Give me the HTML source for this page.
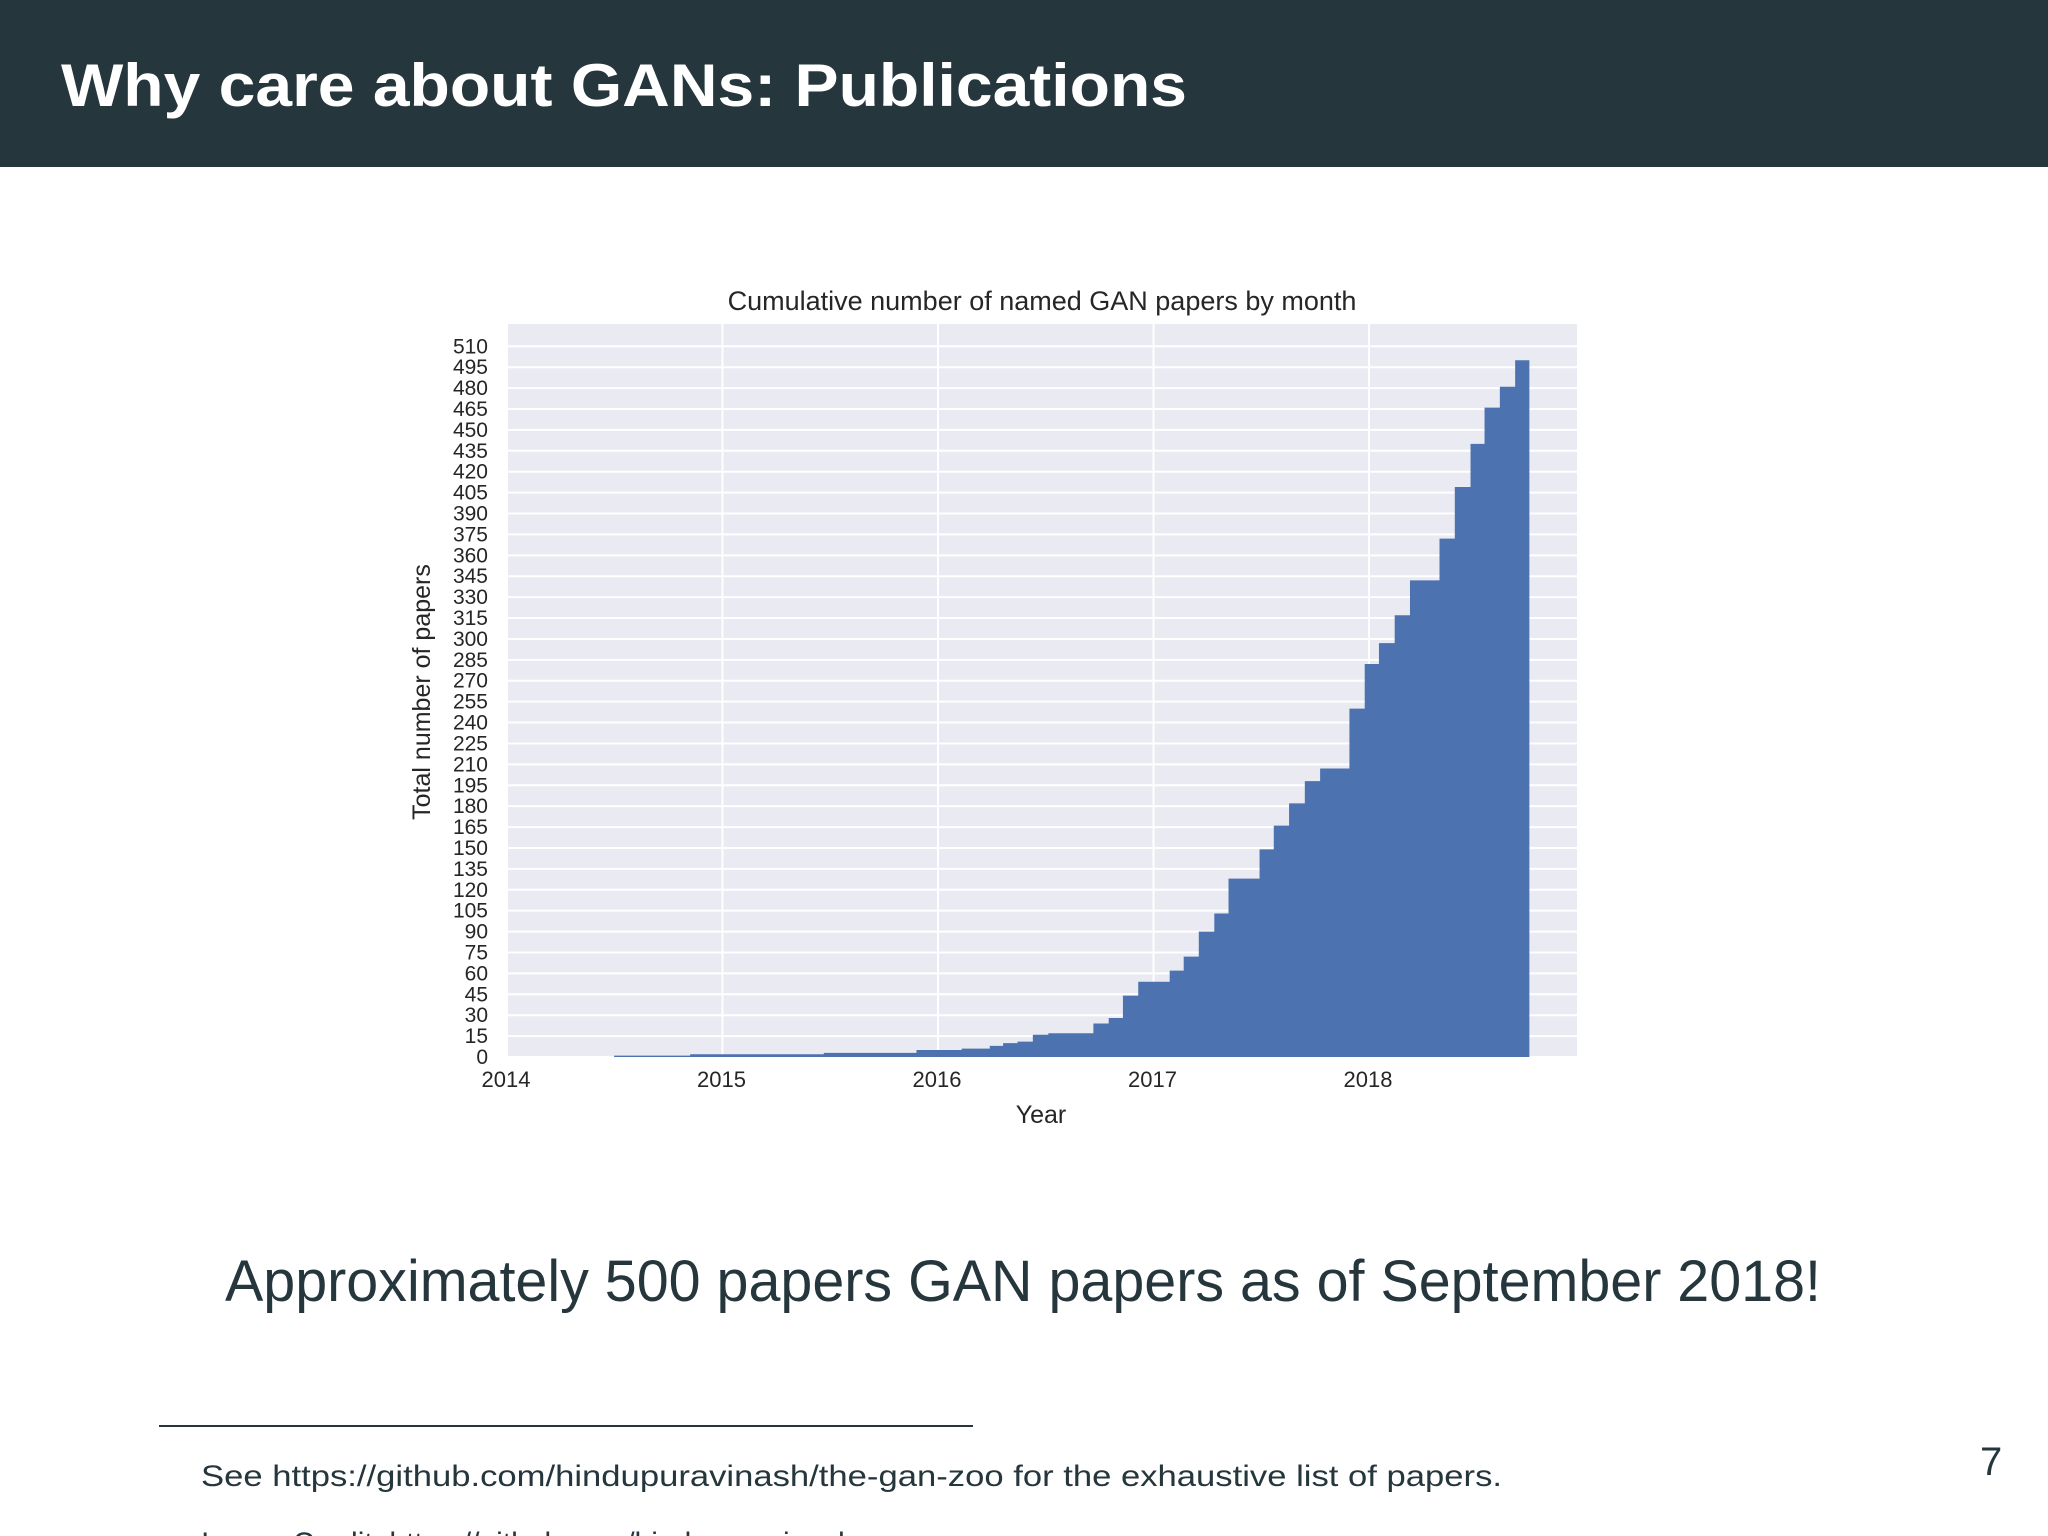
<!DOCTYPE html>
<html><head><meta charset="utf-8"><style>
html,body{margin:0;padding:0;background:#fff;width:2048px;height:1536px;overflow:hidden}
svg{display:block}
</style></head><body>
<svg id="slide" width="2048" height="1536" viewBox="0 0 2048 1536" xmlns="http://www.w3.org/2000/svg" font-family="'Liberation Sans', sans-serif">
<rect x="0" y="0" width="2048" height="167" fill="#25363c"/>
<text x="61" y="106" fill="#fff" font-size="60" font-weight="bold" textLength="1126" lengthAdjust="spacingAndGlyphs">Why care about GANs: Publications</text>
<g id="chart"></g>
<text x="1023" y="1301" fill="#25363c" font-size="58" text-anchor="middle" textLength="1596" lengthAdjust="spacingAndGlyphs">Approximately 500 papers GAN papers as of September 2018!</text>
<line x1="159" y1="1426" x2="973" y2="1426" stroke="#25363c" stroke-width="2"/>
<text x="201" y="1486" fill="#25363c" font-size="30" textLength="1301" lengthAdjust="spacingAndGlyphs">See https://github.com/hindupuravinash/the-gan-zoo for the exhaustive list of papers.</text>
<text x="201" y="1553" fill="#25363c" font-size="30">Image Credit: https://github.com/hindupuravinash</text>
<text x="1980" y="1475" fill="#25363c" font-size="40">7</text>
</svg>
<script>
const stepEdges = [2014.497,2014.85,2015.47,2015.9,2016.11,2016.24,2016.302,2016.369,2016.44,2016.512,2016.721,2016.792,2016.858,2016.929,2017.075,2017.14,2017.21,2017.282,2017.348,2017.492,2017.558,2017.629,2017.702,2017.773,2017.909,2017.98,2018.046,2018.119,2018.19,2018.327,2018.398,2018.471,2018.536,2018.607,2018.678,2018.744];
const stepValues = [1,2,3,5,6,8,10,11,16,17,24,28,44,54,62,72,90,103,128,149,166,182,198,207,250,282,297,317,342,372,409,440,466,481,500];
const yTicks = [];
for (let v = 0; v <= 510; v += 15) yTicks.push(v);
const xTicks = [2014,2015,2016,2017,2018];

const NS = "http://www.w3.org/2000/svg";
const g = document.getElementById('chart');
const L = 507, R = 1577, T = 324, B = 1057;
const X0 = 2014, X1 = 2018.965, Y0 = 0, Y1 = 526;
const xs = v => L + (v - X0) / (X1 - X0) * (R - L);
const ys = v => B - (v - Y0) / (Y1 - Y0) * (B - T);
function mk(tag, attrs, parent) {
  const e = document.createElementNS(NS, tag);
  for (const k in attrs) e.setAttribute(k, attrs[k]);
  (parent || g).appendChild(e);
  return e;
}
const bg = mk('rect', {x: L, y: T, width: R - L, height: B - T, fill: '#eaeaf2'});


yTicks.forEach(v => {
  const ln = mk('line', {x1: L, x2: R, y1: ys(v), y2: ys(v), stroke: '#fff', 'stroke-width': 2});
  
  
  const t = mk('text', {x: L - 19, y: ys(v) + 7, 'font-size': 21, fill: '#262626', 'text-anchor': 'end'});
  t.textContent = v;
  
  
});
xTicks.forEach(v => {
  const ln = mk('line', {x1: xs(v), x2: xs(v), y1: T, y2: B, stroke: '#fff', 'stroke-width': 2});
  
  
  const t = mk('text', {x: xs(v) - 1, y: B + 30, 'font-size': 22, fill: '#262626', 'text-anchor': 'middle'});
  t.textContent = v;
  
  
});
let d = 'M' + xs(stepEdges[0]) + ',' + ys(0);
stepValues.forEach((v, i) => {
  d += 'L' + xs(stepEdges[i]) + ',' + ys(v) + 'L' + xs(stepEdges[i + 1]) + ',' + ys(v);
});
d += 'L' + xs(stepEdges[stepEdges.length - 1]) + ',' + ys(0) + 'Z';
const area = mk('path', {d: d, fill: '#4c72b0'});


const title = mk('text', {x: (L + R) / 2, y: 310, 'font-size': 27, fill: '#262626', 'text-anchor': 'middle'});
title.textContent = 'Cumulative number of named GAN papers by month';


const xl = mk('text', {x: 1041, y: 1123, 'font-size': 25, fill: '#262626', 'text-anchor': 'middle'});
xl.textContent = 'Year';


const yl = mk('text', {x: 0, y: 0, 'font-size': 25, fill: '#262626', 'text-anchor': 'middle', transform: 'translate(430,692) rotate(-90)'});
yl.textContent = 'Total number of papers';


</script>
</body></html>
